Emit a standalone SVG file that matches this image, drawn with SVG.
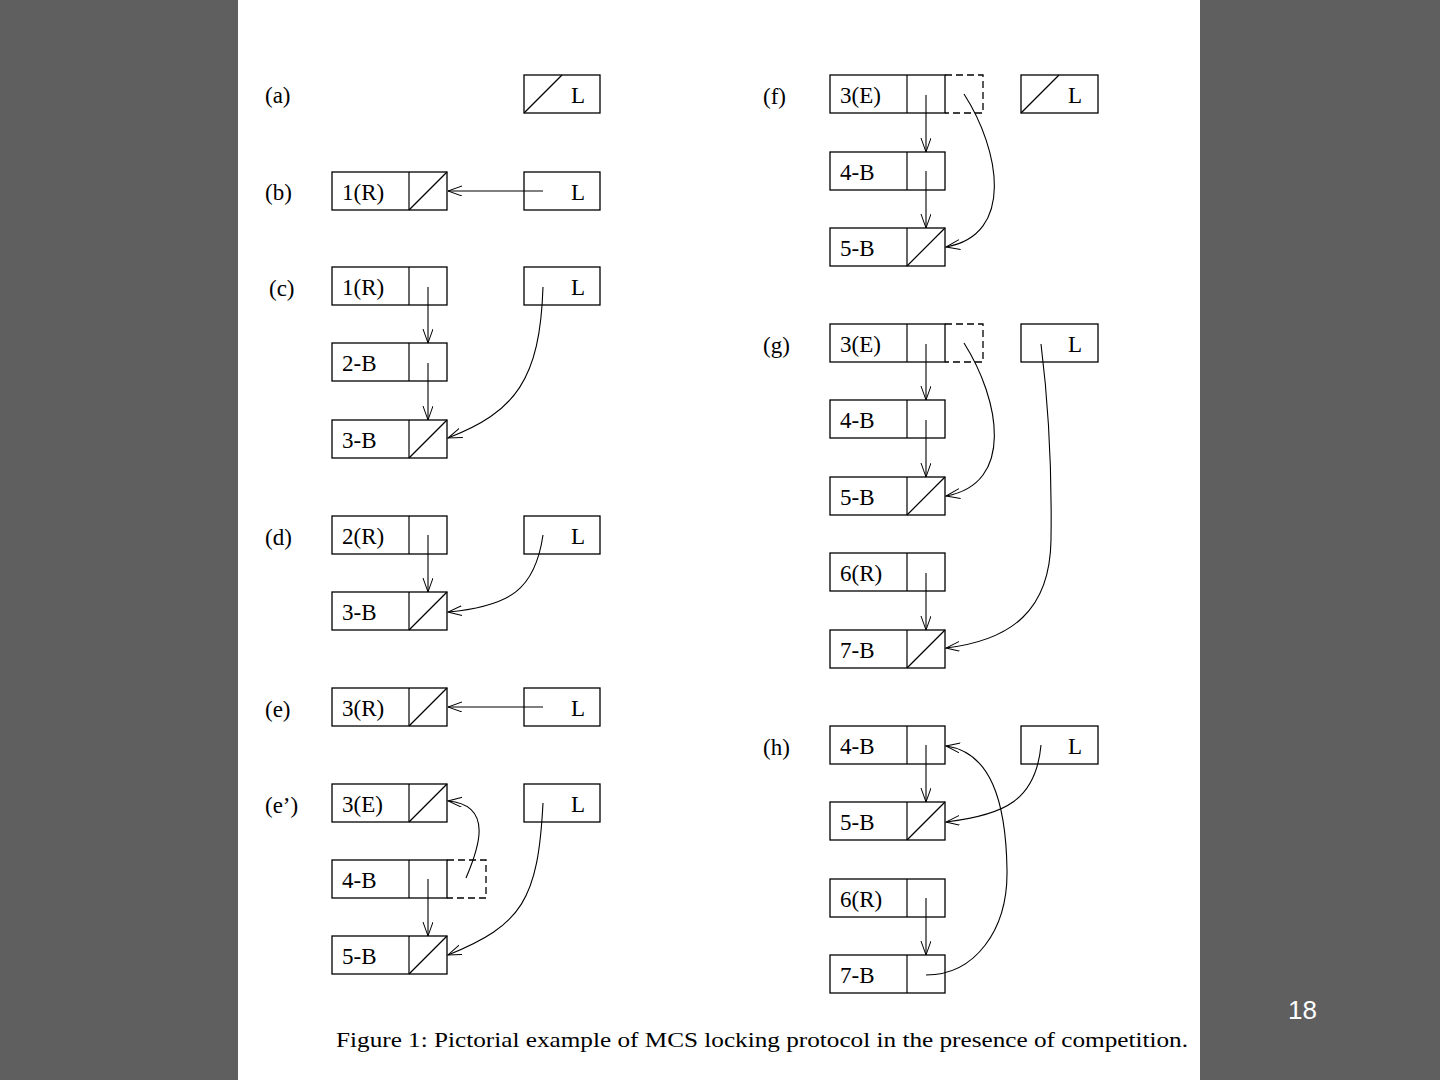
<svg xmlns="http://www.w3.org/2000/svg" width="1440" height="1080" viewBox="0 0 1440 1080">
<defs>
<marker id="ah" markerUnits="userSpaceOnUse" markerWidth="16" markerHeight="12" refX="14" refY="5" orient="auto">
<path d="M0,0 L14,5 L0,10" fill="none" stroke="#000" stroke-width="1"/>
</marker>
</defs>
<style>
.bx{fill:#fff;stroke:#000;stroke-width:1.3}
.ln{fill:none;stroke:#000;stroke-width:1.2}
.ds{fill:none;stroke:#000;stroke-width:1.3;stroke-dasharray:7 4}
.t{font-family:"Liberation Serif","Times New Roman",serif;font-size:23px;fill:#000}
.c{fill:none;stroke:#000;stroke-width:1.1;marker-end:url(#ah)}
</style>
<rect x="0" y="0" width="1440" height="1080" fill="#5f5f5f"/>
<rect x="238" y="0" width="962" height="1080" fill="#fff"/>

<g id="labels">
<text class="t" x="265" y="103">(a)</text>
<text class="t" x="265" y="200">(b)</text>
<text class="t" x="269" y="296">(c)</text>
<text class="t" x="265" y="545">(d)</text>
<text class="t" x="265" y="717">(e)</text>
<text class="t" x="265" y="813">(e’)</text>
<text class="t" x="763" y="104">(f)</text>
<text class="t" x="763" y="353">(g)</text>
<text class="t" x="763" y="755">(h)</text>
</g>

<!-- (a) -->
<g id="a-L"><rect class="bx" x="524" y="75" width="76" height="38"/><line class="ln" x1="524" y1="113" x2="562" y2="75"/><text class="t" x="571" y="103">L</text></g>

<!-- (b) -->
<g id="b-1R"><rect class="bx" x="332" y="172" width="115" height="38"/><line class="ln" x1="409" y1="172" x2="409" y2="210"/><line class="ln" x1="409" y1="210" x2="447" y2="172"/><text class="t" x="342" y="200">1(R)</text></g>
<g id="b-L"><rect class="bx" x="524" y="172" width="76" height="38"/><text class="t" x="571" y="200">L</text></g>

<!-- (c) -->
<g id="c-1R"><rect class="bx" x="332" y="267" width="115" height="38"/><line class="ln" x1="409" y1="267" x2="409" y2="305"/><text class="t" x="342" y="295">1(R)</text></g>
<g id="c-2B"><rect class="bx" x="332" y="343" width="115" height="38"/><line class="ln" x1="409" y1="343" x2="409" y2="381"/><text class="t" x="342" y="371">2-B</text></g>
<g id="c-3B"><rect class="bx" x="332" y="420" width="115" height="38"/><line class="ln" x1="409" y1="420" x2="409" y2="458"/><line class="ln" x1="409" y1="458" x2="447" y2="420"/><text class="t" x="342" y="448">3-B</text></g>
<g id="c-L"><rect class="bx" x="524" y="267" width="76" height="38"/><text class="t" x="571" y="295">L</text></g>

<!-- (d) -->
<g id="d-2R"><rect class="bx" x="332" y="516" width="115" height="38"/><line class="ln" x1="409" y1="516" x2="409" y2="554"/><text class="t" x="342" y="544">2(R)</text></g>
<g id="d-3B"><rect class="bx" x="332" y="592" width="115" height="38"/><line class="ln" x1="409" y1="592" x2="409" y2="630"/><line class="ln" x1="409" y1="630" x2="447" y2="592"/><text class="t" x="342" y="620">3-B</text></g>
<g id="d-L"><rect class="bx" x="524" y="516" width="76" height="38"/><text class="t" x="571" y="544">L</text></g>

<!-- (e) -->
<g id="e-3R"><rect class="bx" x="332" y="688" width="115" height="38"/><line class="ln" x1="409" y1="688" x2="409" y2="726"/><line class="ln" x1="409" y1="726" x2="447" y2="688"/><text class="t" x="342" y="716">3(R)</text></g>
<g id="e-L"><rect class="bx" x="524" y="688" width="76" height="38"/><text class="t" x="571" y="716">L</text></g>

<!-- (e') -->
<g id="e2-3E"><rect class="bx" x="332" y="784" width="115" height="38"/><line class="ln" x1="409" y1="784" x2="409" y2="822"/><line class="ln" x1="409" y1="822" x2="447" y2="784"/><text class="t" x="342" y="812">3(E)</text></g>
<g id="e2-4B"><rect class="bx" x="332" y="860" width="115" height="38"/><line class="ln" x1="409" y1="860" x2="409" y2="898"/><path class="ds" d="M447,860 H486 V898 H447"/><text class="t" x="342" y="888">4-B</text></g>
<g id="e2-5B"><rect class="bx" x="332" y="936" width="115" height="38"/><line class="ln" x1="409" y1="936" x2="409" y2="974"/><line class="ln" x1="409" y1="974" x2="447" y2="936"/><text class="t" x="342" y="964">5-B</text></g>
<g id="e2-L"><rect class="bx" x="524" y="784" width="76" height="38"/><text class="t" x="571" y="812">L</text></g>

<!-- (f) -->
<g id="f-3E"><rect class="bx" x="830" y="75" width="115" height="38"/><line class="ln" x1="907" y1="75" x2="907" y2="113"/><path class="ds" d="M945,75 H983 V113 H945"/><text class="t" x="840" y="103">3(E)</text></g>
<g id="f-L"><rect class="bx" x="1021" y="75" width="77" height="38"/><line class="ln" x1="1021" y1="113" x2="1059" y2="75"/><text class="t" x="1068" y="103">L</text></g>
<g id="f-4B"><rect class="bx" x="830" y="152" width="115" height="38"/><line class="ln" x1="907" y1="152" x2="907" y2="190"/><text class="t" x="840" y="180">4-B</text></g>
<g id="f-5B"><rect class="bx" x="830" y="228" width="115" height="38"/><line class="ln" x1="907" y1="228" x2="907" y2="266"/><line class="ln" x1="907" y1="266" x2="945" y2="228"/><text class="t" x="840" y="256">5-B</text></g>

<!-- (g) -->
<g id="g-3E"><rect class="bx" x="830" y="324" width="115" height="38"/><line class="ln" x1="907" y1="324" x2="907" y2="362"/><path class="ds" d="M945,324 H983 V362 H945"/><text class="t" x="840" y="352">3(E)</text></g>
<g id="g-L"><rect class="bx" x="1021" y="324" width="77" height="38"/><text class="t" x="1068" y="352">L</text></g>
<g id="g-4B"><rect class="bx" x="830" y="400" width="115" height="38"/><line class="ln" x1="907" y1="400" x2="907" y2="438"/><text class="t" x="840" y="428">4-B</text></g>
<g id="g-5B"><rect class="bx" x="830" y="477" width="115" height="38"/><line class="ln" x1="907" y1="477" x2="907" y2="515"/><line class="ln" x1="907" y1="515" x2="945" y2="477"/><text class="t" x="840" y="505">5-B</text></g>
<g id="g-6R"><rect class="bx" x="830" y="553" width="115" height="38"/><line class="ln" x1="907" y1="553" x2="907" y2="591"/><text class="t" x="840" y="581">6(R)</text></g>
<g id="g-7B"><rect class="bx" x="830" y="630" width="115" height="38"/><line class="ln" x1="907" y1="630" x2="907" y2="668"/><line class="ln" x1="907" y1="668" x2="945" y2="630"/><text class="t" x="840" y="658">7-B</text></g>

<!-- (h) -->
<g id="h-4B"><rect class="bx" x="830" y="726" width="115" height="38"/><line class="ln" x1="907" y1="726" x2="907" y2="764"/><text class="t" x="840" y="754">4-B</text></g>
<g id="h-L"><rect class="bx" x="1021" y="726" width="77" height="38"/><text class="t" x="1068" y="754">L</text></g>
<g id="h-5B"><rect class="bx" x="830" y="802" width="115" height="38"/><line class="ln" x1="907" y1="802" x2="907" y2="840"/><line class="ln" x1="907" y1="840" x2="945" y2="802"/><text class="t" x="840" y="830">5-B</text></g>
<g id="h-6R"><rect class="bx" x="830" y="879" width="115" height="38"/><line class="ln" x1="907" y1="879" x2="907" y2="917"/><text class="t" x="840" y="907">6(R)</text></g>
<g id="h-7B"><rect class="bx" x="830" y="955" width="115" height="38"/><line class="ln" x1="907" y1="955" x2="907" y2="993"/><text class="t" x="840" y="983">7-B</text></g>

<g id="connectors">
<path class="c" d="M543,191 H448"/>
<path class="c" d="M428,287 V343"/>
<path class="c" d="M428,363 V420"/>
<path class="c" d="M543,287 C540,380 515,412 448,438"/>
<path class="c" d="M428,535 V592"/>
<path class="c" d="M543,535 C535,590 510,606 448,612"/>
<path class="c" d="M543,707 H448"/>
<path class="c" d="M428,879 V936"/>
<path class="c" d="M466,878 C478,850 495,805 448,801"/>
<path class="c" d="M543,803 C538,900 522,925 448,955"/>
<path class="c" d="M926,95 V152"/>
<path class="c" d="M926,171 V228"/>
<path class="c" d="M964,94 C1000,150 1015,235 946,247"/>
<path class="c" d="M926,344 V400"/>
<path class="c" d="M926,420 V477"/>
<path class="c" d="M926,573 V630"/>
<path class="c" d="M964,343 C1000,400 1015,484 946,496"/>
<path class="c" d="M1041,344 C1048,400 1052,470 1051,540 C1050,610 1012,640 946,648"/>
<path class="c" d="M926,745 V802"/>
<path class="c" d="M926,898 V955"/>
<path class="c" d="M1041,745 C1036,800 1005,815 946,822"/>
<path class="c" d="M926,975 C975,975 1008,930 1007,870 C1006,800 990,752 946,746"/>
</g>

<text x="336" y="1047" font-family="Liberation Serif, serif" font-size="21" textLength="852" lengthAdjust="spacingAndGlyphs" fill="#000">Figure 1: Pictorial example of MCS locking protocol in the presence of competition.</text>
<text x="1288" y="1019" font-family="Liberation Sans, Arial, sans-serif" font-size="26" fill="#fff">18</text>
</svg>
